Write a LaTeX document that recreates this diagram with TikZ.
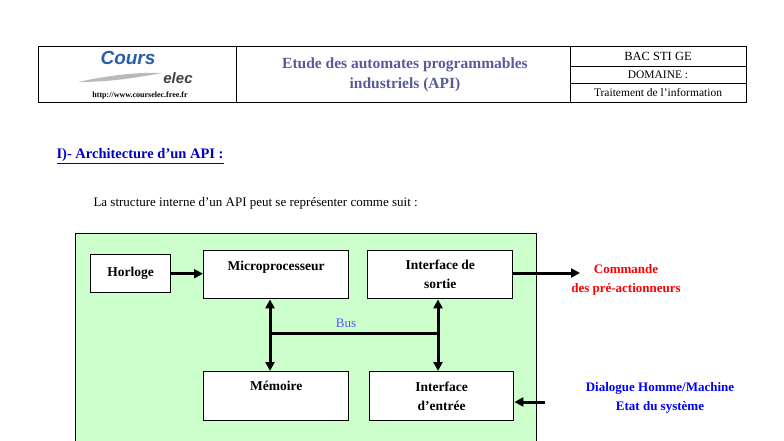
\documentclass[tikz,border=0pt]{standalone}
\usepackage{fontspec}
\setmainfont{Liberation Serif}
\newfontfamily\sans{Liberation Sans}
\usetikzlibrary{arrows.meta}
\definecolor{bg}{HTML}{CCFFCC}
\definecolor{titlec}{HTML}{5A5A9A}
\definecolor{logob}{HTML}{2A5CA8}
\begin{document}
\begin{tikzpicture}[x=1pt,y=-1pt,
  blk/.style={draw,line width=1.4pt,fill=white,anchor=north west,inner sep=0pt},
  lbl/.style={font=\bfseries\fontsize{13.5}{19}\selectfont,align=center},
  conn/.style={line width=3pt,-{Triangle[length=9pt,width=9pt]}},
  bi/.style={line width=3pt,{Triangle[length=9pt,width=9pt]}-{Triangle[length=9pt,width=9pt]}}]
\useasboundingbox (0,0) rectangle (784,441);
% header
\draw[line width=0.8pt] (38,46) rectangle (746,102);
\draw[line width=0.8pt] (236,46) -- (236,102) (570,46) -- (570,102);
\draw[line width=0.5pt] (570,66) -- (746,66) (570,83) -- (746,83);
\node[font=\sans\bfseries\itshape\fontsize{19}{19}\selectfont,text=logob] (cours) at (128,58) {Cours};
\node[font=\sans\bfseries\itshape\fontsize{15}{15}\selectfont,text=black!75] (elec) at (178,78) {elec};
\fill[gray!55] (78,82) .. controls (110,75) and (140,72) .. (162,73) .. controls (130,79) and (105,82) .. (78,82);
\node[font=\bfseries\fontsize{8}{8}\selectfont] (url) at (140,96) {http://www.courselec.free.fr};
\node[font=\bfseries\fontsize{15.5}{20}\selectfont,text=titlec,align=center] (title) at (405,75) {Etude des automates programmables\\industriels (API)};
\node[font=\fontsize{12.5}{12}\selectfont] (bac) at (658,56) {BAC STI GE};
\node[font=\fontsize{11.5}{11}\selectfont] (dom) at (658,75) {DOMAINE :};
\node[font=\fontsize{11.5}{11}\selectfont] (trt) at (658,93) {Traitement de l'information};
\node[font=\bfseries\fontsize{14.5}{14}\selectfont,text=blue!80!black,anchor=west] (sec) at (53,156) {\underline{I)- Architecture d'un API :}};
\node[font=\fontsize{13}{13}\selectfont,anchor=west] (intro) at (90,203) {La structure interne d'un API peut se représenter comme suit :};
% diagram
\draw[line width=1pt,fill=bg] (75,233) rectangle (536,445);
\node[blk,minimum width=80,minimum height=38] (hor) at (90,254) {};
\node[lbl] at (hor.center) {Horloge};
\node[blk,minimum width=145,minimum height=48] (mic) at (203,250) {};
\node[lbl] at ([yshift=-17]mic.north) {Microprocesseur};
\node[blk,minimum width=145,minimum height=48] (sor) at (367,250) {};
\node[lbl] at (sor.center) {Interface de\\sortie};
\node[blk,minimum width=145,minimum height=49] (mem) at (203,371) {};
\node[lbl] at ([yshift=-15]mem.north) {Mémoire};
\node[blk,minimum width=144,minimum height=49] (ent) at (369,371) {};
\node[lbl] at (ent.center) {Interface\\d'entrée};
\draw[conn] (hor.east) -- (mic.west|-hor.east);
\draw[bi] (mic.south-|270,0) -- (mem.north-|270,0);
\draw[bi] (sor.south-|438,0) -- (ent.north-|438,0);
\coordinate (b1) at (270,333);
\coordinate (b2) at (438,333);
\draw[line width=3pt] (b1) -- (b2);
\node[text=blue!65,font=\fontsize{13}{13}\selectfont] (bus) at (346,323) {Bus};
\coordinate (outend) at (580,273);
\draw[conn] (sor.east|-outend) -- (outend);
\node[text=red,font=\bfseries\fontsize{13}{19}\selectfont,align=center] (cmd) at (626,280) {Commande\\des pré-actionneurs};
\coordinate (instart) at (545,402);
\draw[conn] (instart) -- (ent.east|-instart);
\node[text=blue,font=\bfseries\fontsize{13}{19}\selectfont,align=center] (dia) at (660,398) {Dialogue Homme/Machine\\Etat du système};
\end{tikzpicture}
\end{document}
